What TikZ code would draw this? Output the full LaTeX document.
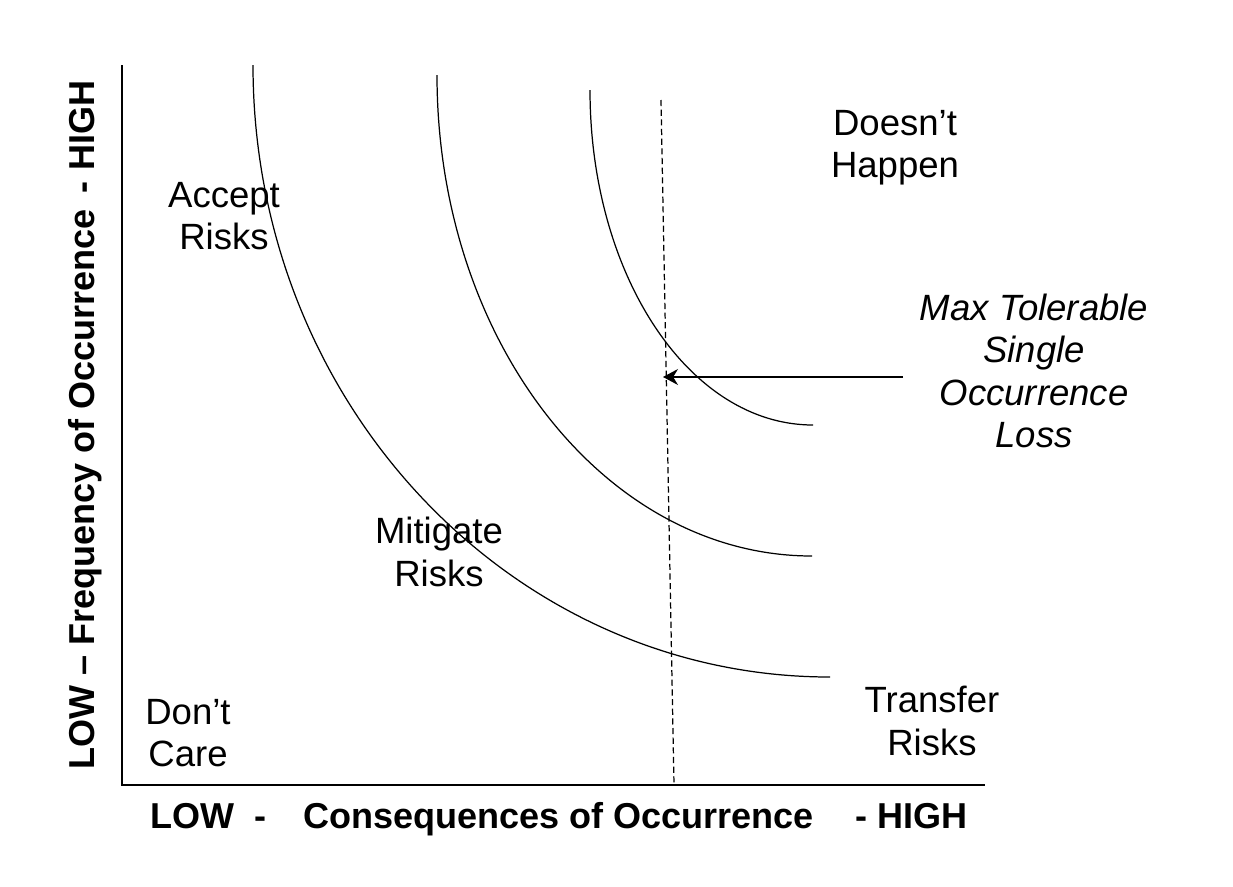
\documentclass[tikz,border=0pt]{standalone}
\usepackage{fontspec}
\setmainfont{Liberation Sans}
\usetikzlibrary{arrows.meta}

\begin{document}
\begin{tikzpicture}[x=0.02cm,y=-0.02cm,>={Stealth[length=3mm,width=3.2mm]},
  zone/.style={align=center,inner sep=0pt,font=\fontsize{20.8pt}{24pt}\selectfont},
  zoneit/.style={align=center,inner sep=0pt,font=\fontsize{20.8pt}{24pt}\selectfont\itshape},
  axlabel/.style={inner sep=0pt,font=\fontsize{20.5pt}{24pt}\selectfont\bfseries},
  riskcurve/.style={line width=0.7pt}]
  \useasboundingbox (0,0) rectangle (1233,886);
  % axes
  \coordinate (orig) at (122,785);
  \coordinate (ytop) at (122,65);
  \coordinate (xend) at (985,785);
  \draw[line width=1.1pt] (ytop) -- (orig) -- (xend);
  % iso-risk curves (quarter ellipses)
  \draw[riskcurve] (253,65) .. controls (253,403) and (511,677) .. (830,677);
  \draw[riskcurve] (437,75) .. controls (437,341) and (605,556) .. (812,556);
  \draw[riskcurve] (590,90) .. controls (590,275) and (689,425) .. (813,425);
  % max tolerable loss
  \coordinate (limtop) at (661,100);
  \coordinate (limbot) at (674,785);
  \draw[line width=0.7pt,dash pattern=on 3.5pt off 2pt] (limtop) -- (limbot);
  \coordinate (arrstart) at (903,377);
  \coordinate (arrend) at (663,377);
  \draw[->,line width=0.7pt] (arrstart) -- (arrend);
  % regions
  \node[zone] (happen) at (895,148) {Doesn’t\\Happen};
  \node[zone] (accept) at (224,216) {Accept\\Risks};
  \node[zoneit] (maxloss) at (1034,371) {Max Tolerable\\Single\\Occurrence\\Loss};
  \node[zone] (mitigate) at (439,552) {Mitigate\\Risks};
  \node[zone] (dontcare) at (188,733) {Don’t\\Care};
  \node[zone] (transfer) at (932,721) {Transfer\\Risks};
  % axis labels
  \node[axlabel,anchor=base west] (xlabel) at (150,828)
    {LOW\hspace{0.4cm}-\hspace{0.74cm}Consequences of Occurrence\hspace{0.84cm}- HIGH};
  \node[axlabel,anchor=base west,rotate=90] (ylabel) at (94,770)
    {LOW – Frequency of Occurrence\hspace{0.32cm}-\hspace{0.22cm}HIGH};
\end{tikzpicture}
\end{document}
